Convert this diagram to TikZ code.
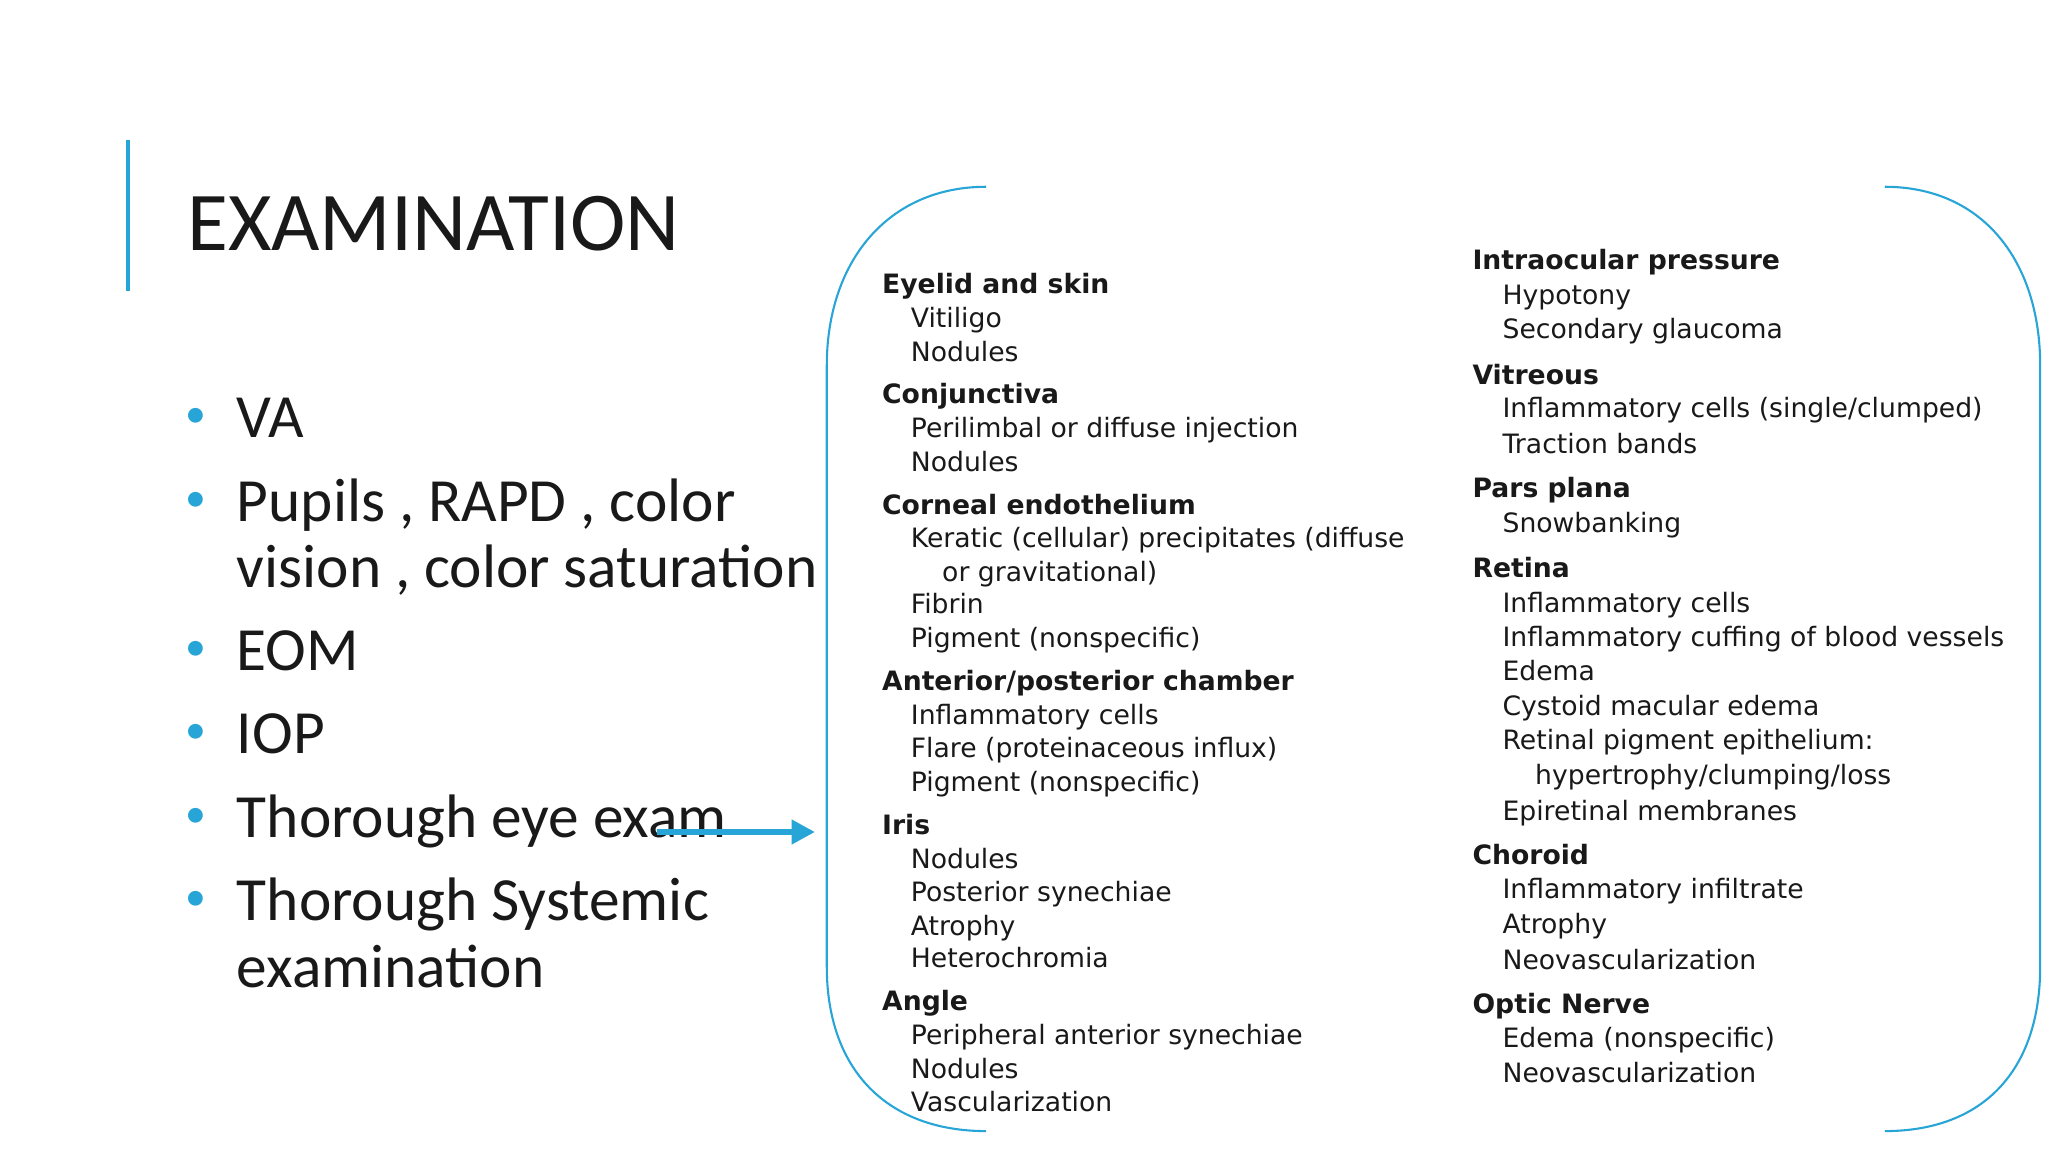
\documentclass[tikz,border=0pt]{standalone}
\usepackage{fontspec}
\setmainfont{Carlito}
\newfontfamily\listfont{DejaVu Sans}
\usetikzlibrary{arrows.meta}
\definecolor{accent}{RGB}{40,165,215}
\definecolor{txt}{RGB}{25,25,25}
\begin{document}
\begin{tikzpicture}[x=0.5pt,y=-0.5pt,
  hd/.style={anchor=base west,inner sep=0pt,font=\listfont\fontsize{10.2}{12}\selectfont\bfseries,text=txt},
  it/.style={anchor=base west,inner sep=0pt,font=\listfont\fontsize{10.2}{12}\selectfont,text=txt},
  bl/.style={anchor=base west,inner sep=0pt,font=\fontsize{23.5}{27}\selectfont,text=txt},
  dot/.style={anchor=center,inner sep=0pt,font=\fontsize{16}{20}\selectfont,text=accent},
  brk/.style={draw=accent,line width=0.8pt}]
\useasboundingbox (0,0) rectangle (1568,882);
\fill[white] (0,0) rectangle (1568,882);
\draw[accent,line width=1.5pt] (98,107) -- (98,223);
\node[anchor=base west,inner sep=0pt,font=\fontsize{32}{36}\selectfont,text=txt] (title) at (143,192) {EXAMINATION};
% bullets
\foreach \y/\t [count=\i] in {320/VA,384/{Pupils , RAPD , color},498/EOM,562/IOP,626/{Thorough eye exam},690/{Thorough Systemic}}{
  \node[dot] (d\i) at (150,\y) {•};
  \node[bl] (b\i) at (181,\y+15) {\t};
}
\node[bl] (b2b) at (181,450) {vision , color saturation};
\node[bl] (b6b) at (181,756) {examination};
% arrow
\coordinate (as) at (503,637);
\coordinate (ae) at (624,637);
\draw[accent,line width=2.5pt,-{Triangle[length=9pt,width=9pt]}] (as) -- (ae);
% brackets
\draw[brk] (755,143) .. controls (680,143) and (633,200) .. (633,280) -- (633,740) .. controls (633,820) and (680,866) .. (755,866);
\draw[brk] (1443,143) .. controls (1518,143) and (1562,200) .. (1562,280) -- (1562,740) .. controls (1562,820) and (1518,866) .. (1443,866);
% left column
\foreach \x/\y/\s/\t [count=\i] in {
675/218/hd/Eyelid and skin, 697/244/it/Vitiligo, 697/270/it/Nodules,
675/302/hd/Conjunctiva, 697/328/it/Perilimbal or diffuse injection, 697/354/it/Nodules,
675/387/hd/Corneal endothelium, 697/412/it/Keratic (cellular) precipitates (diffuse, 721/438/it/or gravitational),
697/463/it/Fibrin, 697/489/it/Pigment (nonspecific),
675/522/hd/{Anterior/posterior chamber}, 697/548/it/Inflammatory cells, 697/573/it/Flare (proteinaceous influx), 697/599/it/Pigment (nonspecific),
675/632/hd/Iris, 697/658/it/Nodules, 697/683/it/Posterior synechiae, 697/709/it/Atrophy, 697/734/it/Heterochromia,
675/767/hd/Angle, 697/793/it/Peripheral anterior synechiae, 697/819/it/Nodules, 697/844/it/Vascularization}{
  \node[\s] (l\i) at (\x,\y+7) {\t};
}
% right column
\foreach \x/\y/\s/\t [count=\i] in {
1127/199/hd/Intraocular pressure, 1150/226/it/Hypotony, 1150/252/it/Secondary glaucoma,
1127/287/hd/Vitreous, 1150/313/it/{Inflammatory cells (single/clumped)}, 1150/340/it/Traction bands,
1127/374/hd/Pars plana, 1150/401/it/Snowbanking,
1127/435/hd/Retina, 1150/462/it/Inflammatory cells, 1150/488/it/Inflammatory cuffing of blood vessels, 1150/514/it/Edema, 1150/541/it/Cystoid macular edema, 1150/567/it/Retinal pigment epithelium:, 1175/594/it/{hypertrophy/clumping/loss}, 1150/621/it/Epiretinal membranes,
1127/655/hd/Choroid, 1150/681/it/Inflammatory infiltrate, 1150/708/it/Atrophy, 1150/735/it/Neovascularization,
1127/769/hd/Optic Nerve, 1150/795/it/Edema (nonspecific), 1150/822/it/Neovascularization}{
  \node[\s] (r\i) at (\x,\y+7) {\t};
}
\end{tikzpicture}
\end{document}
